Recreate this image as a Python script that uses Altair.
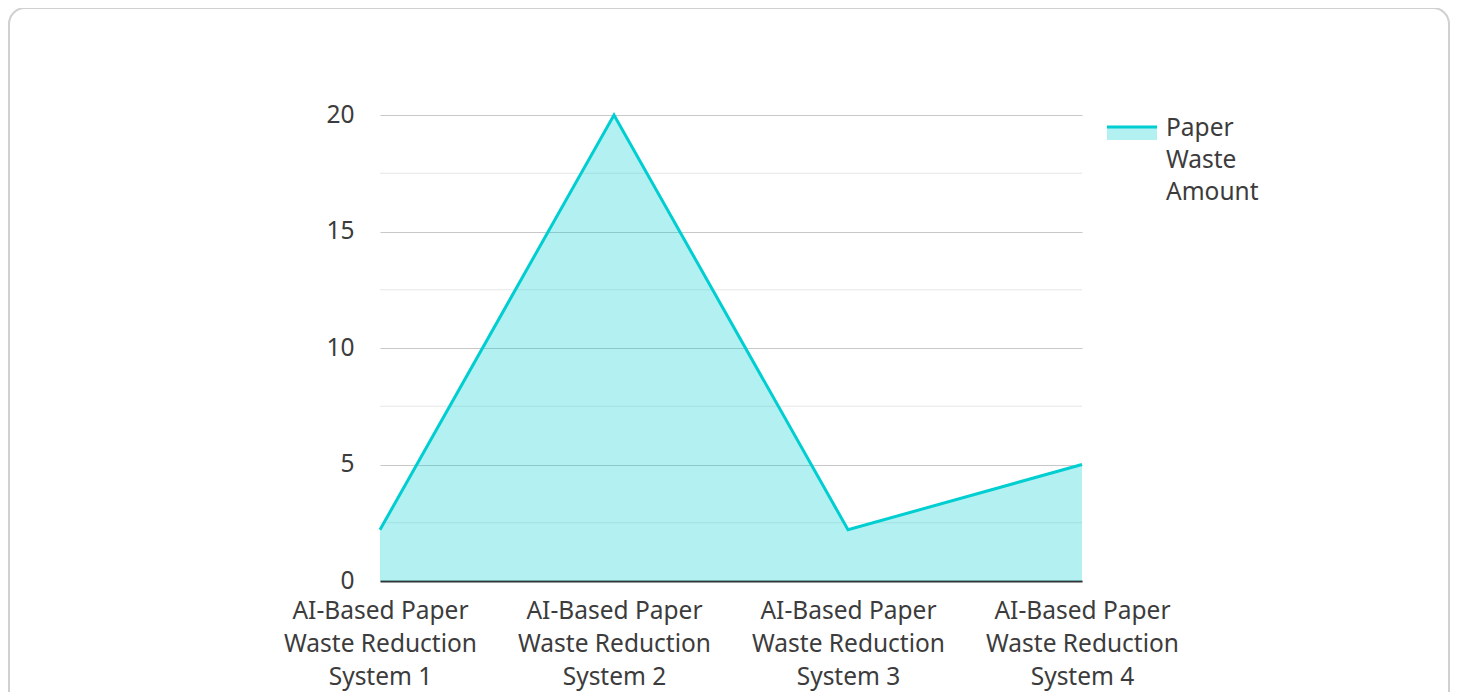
import altair as alt
import pandas as pd

categories = [
    "AI-Based Paper Waste Reduction System 1",
    "AI-Based Paper Waste Reduction System 2",
    "AI-Based Paper Waste Reduction System 3",
    "AI-Based Paper Waste Reduction System 4",
]
values = [2.2, 20, 2.2, 5]
series_name = "Paper Waste Amount"
major_ticks = [0, 5, 10, 15, 20]
minor_ticks = [2.5, 7.5, 12.5, 17.5]

df = pd.DataFrame({"system": categories, "amount": values, "series": series_name})
minor_df = pd.DataFrame({"amount": minor_ticks})
legend_df = pd.DataFrame({"label": [series_name]})
frame_df = pd.DataFrame({"k": [0]})

LINE = "#00CED1"
FONT = "Noto Sans"
FS = 24.5
TXT = "#3c3c3c"
W, H = 702, 466

x_enc = alt.X(
    "system:N",
    sort=categories,
    scale=alt.Scale(type="point", padding=0),
    axis=alt.Axis(
        title=None,
        labelAngle=0,
        labelFontSize=FS,
        labelColor=TXT,
        labelFont=FONT,
        labelLineHeight=33,
        labelPadding=18,
        labelLimit=0,
        ticks=False,
        domainColor="#333",
        domainWidth=2,
        grid=False,
        labelExpr="split(replace(datum.label, regexp(' (?=Waste|System)', 'g'), '|'), '|')",
    ),
)
y_scale = alt.Scale(domain=[0, 20], nice=False)
y_axis = alt.Axis(
    title=None,
    values=major_ticks,
    labelFontSize=FS,
    labelColor=TXT,
    labelFont=FONT,
    labelPadding=26,
    ticks=False,
    domain=False,
    grid=True,
    gridColor="#c8c8c8",
    gridWidth=1.2,
)
y_enc = alt.Y("amount:Q", scale=y_scale, axis=y_axis)

minor = alt.Chart(minor_df).mark_rule(color="#e6e6e6", strokeWidth=1.2).encode(
    y=y_enc,
    x=alt.value(0),
    x2=alt.value(W),
)

area = alt.Chart(df).mark_area(color=LINE, opacity=0.3).encode(x=x_enc, y=y_enc)
line = alt.Chart(df).mark_line(color=LINE, strokeWidth=3).encode(x=x_enc, y=y_enc)

leg_rect = alt.Chart(legend_df).mark_rect(color=LINE, opacity=0.3).encode(
    x=alt.value(727), x2=alt.value(777), y=alt.value(11), y2=alt.value(25)
)
leg_rule = alt.Chart(legend_df).mark_rule(color=LINE, strokeWidth=3).encode(
    x=alt.value(727), x2=alt.value(777), y=alt.value(12)
)
leg_text = alt.Chart(legend_df).mark_text(
    align="left", baseline="alphabetic", fontSize=FS, font=FONT, color=TXT,
    lineBreak=" ", lineHeight=32,
).encode(x=alt.value(786), y=alt.value(21), text="label:N")

frame = alt.Chart(frame_df).mark_rect(
    fill="transparent", stroke="#d0d0d0", strokeWidth=2, cornerRadius=16, clip=False
).encode(x=alt.value(-371), x2=alt.value(1069), y=alt.value(-107), y2=alt.value(640))

chart = (
    alt.layer(frame, minor, area, line, leg_rect, leg_rule, leg_text)
    .properties(
        width=W,
        height=H,
        autosize=alt.AutoSizeParams(type="none"),
        padding={"left": 372, "top": 107, "right": 368, "bottom": 111},
        view=alt.ViewBackground(stroke="transparent", strokeWidth=0),
    )
    .configure_view(stroke="transparent", strokeWidth=0)
    .configure(background="white")
)

chart.save("out.html", embed_options={"renderer": "svg", "actions": False})
